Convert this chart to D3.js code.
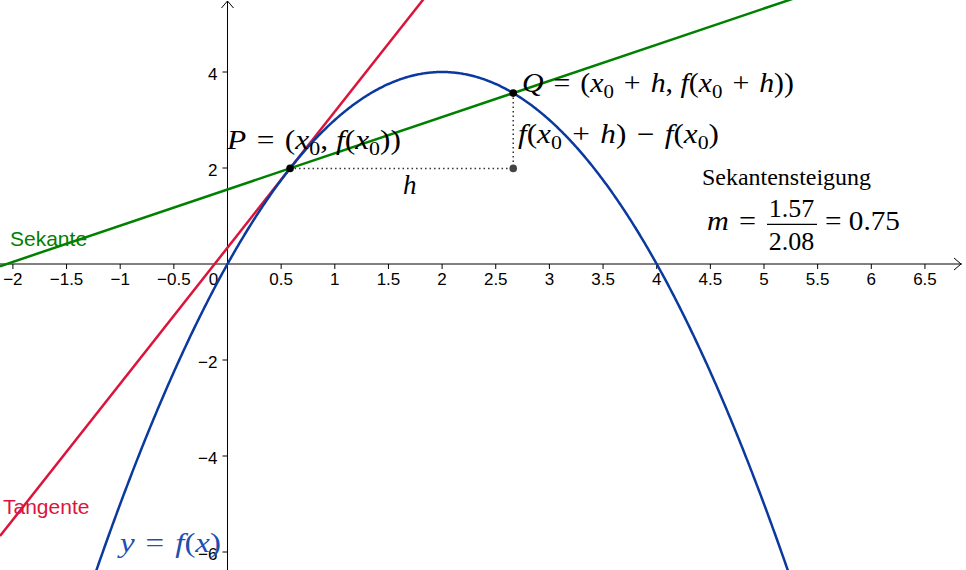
<!DOCTYPE html>
<html>
<head>
<meta charset="utf-8">
<script src="https://cdn.jsdelivr.net/npm/d3@7/dist/d3.min.js"></script>
<style>
html,body{margin:0;padding:0;background:#fff;overflow:hidden;}
svg{display:block;}
</style>
</head>
<body>
<svg id="chart" width="966" height="570"></svg>
<script>
// ---- data ----
const xDomain = [-2.1202, 6.8826];
const yDomain = [5.5, -6.375];
const xTicks = [-2, -1.5, -1, -0.5, 0, 0.5, 1, 1.5, 2, 2.5, 3, 3.5, 4, 4.5, 5, 5.5, 6, 6.5];
const yTicks = [-6, -4, -2, 2, 4];
const parabola = [-1, 4, 0];      // f(x) = a x^2 + b x + c
const x0 = 0.583;
const h = 2.08;
const slopeLabel = ["1.57", "2.08", "0.75"];

const W = 966, H = 570;
const colCurve = "#0a3a9e", colTan = "#dc143c", colSec = "#008000";
const serif = "'Liberation Serif','DejaVu Serif',serif";
const sans = "'Liberation Sans',Arial,sans-serif";
const E = "\u2004"; // three-per-em space for operator spacing

const svg = d3.select("#chart");
const x = d3.scaleLinear().domain(xDomain).range([0, W]);
const y = d3.scaleLinear().domain(yDomain).range([0, H]);
const f = t => parabola[0]*t*t + parabola[1]*t + parabola[2];
const fp = t => 2*parabola[0]*t + parabola[1];

const X0 = x(0), Y0 = y(0);

// ---- axes ----
const ax = svg.append("g").attr("stroke", "#000").attr("stroke-width", 1).attr("fill", "none");
ax.append("line").attr("x1", 0).attr("x2", W - 4).attr("y1", Y0).attr("y2", Y0);
ax.append("path").attr("d", `M${W-12},${Y0-6}L${W-5},${Y0}L${W-12},${Y0+6}`);
ax.append("line").attr("x1", X0).attr("x2", X0).attr("y1", H).attr("y2", 1);
ax.append("path").attr("d", `M${X0-6},${8}L${X0},${1}L${X0+6},${8}`);

const fmt = v => (v < 0 ? "\u2212" : "") + String(Math.abs(v));

xTicks.forEach(v => {
  if (v !== 0) ax.append("line").attr("x1", x(v)).attr("x2", x(v)).attr("y1", Y0).attr("y2", Y0 + 5);
  svg.append("text")
    .attr("x", v === 0 ? X0 - 14 : x(v)).attr("y", Y0 + 21)
    .attr("text-anchor", "middle").attr("font-family", sans).attr("font-size", 17)
    .text(fmt(v));
});
yTicks.forEach(v => {
  ax.append("line").attr("x1", X0 - 5).attr("x2", X0).attr("y1", y(v)).attr("y2", y(v));
  svg.append("text")
    .attr("x", X0 - 10).attr("y", y(v) + 8)
    .attr("text-anchor", "end").attr("font-family", sans).attr("font-size", 17)
    .text(fmt(v));
});

// ---- lines ----
const lineFn = (slope) => t => f(x0) + slope*(t - x0);
const tan = lineFn(fp(x0));
const sec = lineFn((f(x0 + h) - f(x0)) / h);
const line = d3.line().x(d => x(d[0])).y(d => y(d[1]));

svg.append("path").attr("d", line(xDomain.map(t => [t, tan(t)])))
  .attr("stroke", colTan).attr("stroke-width", 2.5).attr("fill", "none");
svg.append("path").attr("d", line(xDomain.map(t => [t, sec(t)])))
  .attr("stroke", colSec).attr("stroke-width", 2.5).attr("fill", "none");

const samples = d3.range(-1.4, 5.4, 0.01).map(t => [t, f(t)]);
svg.append("path").attr("d", line(samples))
  .attr("stroke", colCurve).attr("stroke-width", 2.5).attr("fill", "none");

// ---- dotted helper lines ----
const Px = x(x0), Py = y(f(x0)), Qx = x(x0 + h), Qy = y(f(x0 + h));
svg.append("path").attr("d", `M${Px},${Py}L${Qx},${Py}L${Qx},${Qy}`)
  .attr("stroke", "#333").attr("stroke-width", 1.5).attr("stroke-dasharray", "1.5,3").attr("fill", "none");

svg.append("circle").attr("cx", Qx).attr("cy", Py).attr("r", 3.8).attr("fill", "#444");
svg.append("circle").attr("cx", Px).attr("cy", Py).attr("r", 3.8).attr("fill", "#000");
svg.append("circle").attr("cx", Qx).attr("cy", Qy).attr("r", 3.8).attr("fill", "#000");

// ---- math text helper ----
function mathText(px, py, size, color, parts, len) {
  const t = svg.append("text").attr("x", px).attr("y", py)
    .attr("font-family", serif).attr("font-size", size).attr("fill", color)
    .attr("xml:space", "preserve");
  if (len) t.attr("textLength", len).attr("lengthAdjust", "spacingAndGlyphs");
  let inSub = false;
  parts.forEach(([s, k]) => {
    const sp = t.append("tspan").text(s);
    if (k === "i") sp.attr("font-style", "italic");
    if (k === "s") {
      sp.attr("font-size", size * 0.7).attr("dy", size * 0.24);
      inSub = true;
    } else if (inSub) {
      sp.attr("dy", -size * 0.24);
      inSub = false;
    }
  });
  return t;
}

mathText(227, 149, 27, "#000", [["P","i"],[E+"="+E+"(",""],["x","i"],["0","s"],[", ",""],["f","i"],["(",""],["x","i"],["0","s"],["))",""]], 174);
mathText(522, 92, 27, "#000", [["Q","i"],[E+"="+E+"(",""],["x","i"],["0","s"],[E+"+"+E,""],["h","i"],[", ",""],["f","i"],["(",""],["x","i"],["0","s"],[E+"+"+E,""],["h","i"],["))",""]], 272);
mathText(518, 143, 27, "#000", [["f","i"],["(",""],["x","i"],["0","s"],[E+"+"+E,""],["h","i"],[")"+E+"\u2212"+E,""],["f","i"],["(",""],["x","i"],["0","s"],[")",""]], 201);
mathText(403, 194, 27, "#000", [["h","i"]]);
mathText(120, 552, 27, "#1f4fb0", [["y","i"],[E+"="+E,""],["f","i"],["(",""],["x","i"],[")",""]], 101);

svg.append("text").attr("x", 702).attr("y", 185).attr("font-family", serif)
  .attr("font-size", 23).attr("textLength", 169).attr("lengthAdjust", "spacingAndGlyphs")
  .text("Sekantensteigung");
mathText(707, 230, 27, "#000", [["m","i"],[E+"=",""]], 49);
svg.append("text").attr("x", 791.5).attr("y", 216.5).attr("text-anchor", "middle")
  .attr("font-family", serif).attr("font-size", 26).text(slopeLabel[0]);
svg.append("text").attr("x", 791.5).attr("y", 250).attr("text-anchor", "middle")
  .attr("font-family", serif).attr("font-size", 26).text(slopeLabel[1]);
svg.append("line").attr("x1", 767).attr("x2", 817).attr("y1", 224.3).attr("y2", 224.3)
  .attr("stroke", "#000").attr("stroke-width", 1.2);
mathText(825, 230, 27, "#000", [["= " + slopeLabel[2], ""]], 75);

svg.append("text").attr("x", 10).attr("y", 246).attr("font-family", sans)
  .attr("font-size", 21).attr("fill", colSec).text("Sekante");
svg.append("text").attr("x", 3).attr("y", 514).attr("font-family", sans)
  .attr("font-size", 21).attr("fill", colTan).text("Tangente");
</script>
</body>
</html>
